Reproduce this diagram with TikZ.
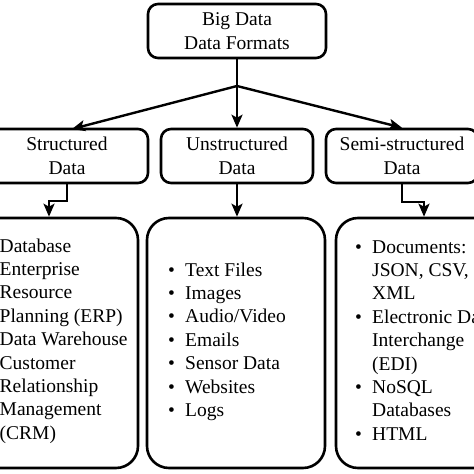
\documentclass[tikz,border=0pt]{standalone}
\usepackage{fontspec}
\setmainfont{Liberation Serif}
\usetikzlibrary{arrows.meta}
\newcommand\diafont{\fontsize{19.5}{23.4}\selectfont}
\newcommand\dbul{\makebox[17pt][l]{•}}
\newcommand\dind{\hspace*{17pt}}
\begin{document}
\begin{tikzpicture}[x=1pt,y=-1pt,
  box/.style={draw, line width=2.6pt, rounded corners=10pt, inner sep=0pt,
    align=center, font=\diafont, minimum width=#1, minimum height=54pt},
  listbox/.style={draw, line width=2.6pt, rounded corners=22pt, inner sep=0pt,
    minimum width=178pt, minimum height=250pt},
  listtext/.style={anchor=base west, inner sep=0pt},
  conn/.style={line width=2.4pt},
  arr/.style={line width=2.4pt, -{Stealth[length=13pt,width=11pt,inset=3pt]}}]
\useasboundingbox (0,0) rectangle (474,474);
\fill[white] (0,0) rectangle (474,474);
\clip (0,0) rectangle (474,474);
% top
\node[box=178pt] (top) at (237,31) {Big Data\\Data Formats};
% level 2
\node[box=162pt] (structured) at (67,156) {Structured\\Data};
\node[box=152pt] (unstructured) at (237,156) {Unstructured\\Data};
\node[box=152pt] (semi) at (402,156) {Semi-structured\\Data};
% level 3
\node[listbox] (lbox) at (49,343) {};
\node[listbox] (mbox) at (236,343) {};
\node[listbox] (rbox) at (425,343) {};
% connectors
\coordinate (j) at (237,86);
\coordinate (sa) at (72,129);
\draw[conn] (top.south) -- (j);
\draw[arr] (j) -- (sa);
\draw[arr] (j) -- (unstructured.north);
\draw[arr] (j) -- (semi.north);
\coordinate (e1) at (49,201);
\coordinate (e2) at (424,202);
\draw[arr] (structured.south) |- (e1) -- (e1 |- lbox.north);
\draw[arr] (unstructured.south) -- (unstructured.south |- mbox.north);
\draw[arr] (semi.south) |- (e2) -- (e2 |- rbox.north);
% list texts
\node[listtext] (ltext) at (-0.5,252) {\parbox[t]{200pt}{\diafont
  Database\\
  Enterprise\\
  Resource\\
  Planning (ERP)\\
  Data Warehouse\\
  Customer\\
  Relationship\\
  Management\\
  (CRM)}};
\node[listtext] (mtext) at (168,276) {\parbox[t]{200pt}{\diafont
  \dbul Text Files\\
  \dbul Images\\
  \dbul Audio/Video\\
  \dbul Emails\\
  \dbul Sensor Data\\
  \dbul Websites\\
  \dbul Logs}};
\node[listtext] (rtext) at (355,253) {\parbox[t]{200pt}{\diafont
  \dbul Documents:\\
  \dind JSON, CSV,\\
  \dind XML\\
  \dbul Electronic Data\\
  \dind Interchange\\
  \dind (EDI)\\
  \dbul NoSQL\\
  \dind Databases\\
  \dbul HTML}};
\end{tikzpicture}
\end{document}
